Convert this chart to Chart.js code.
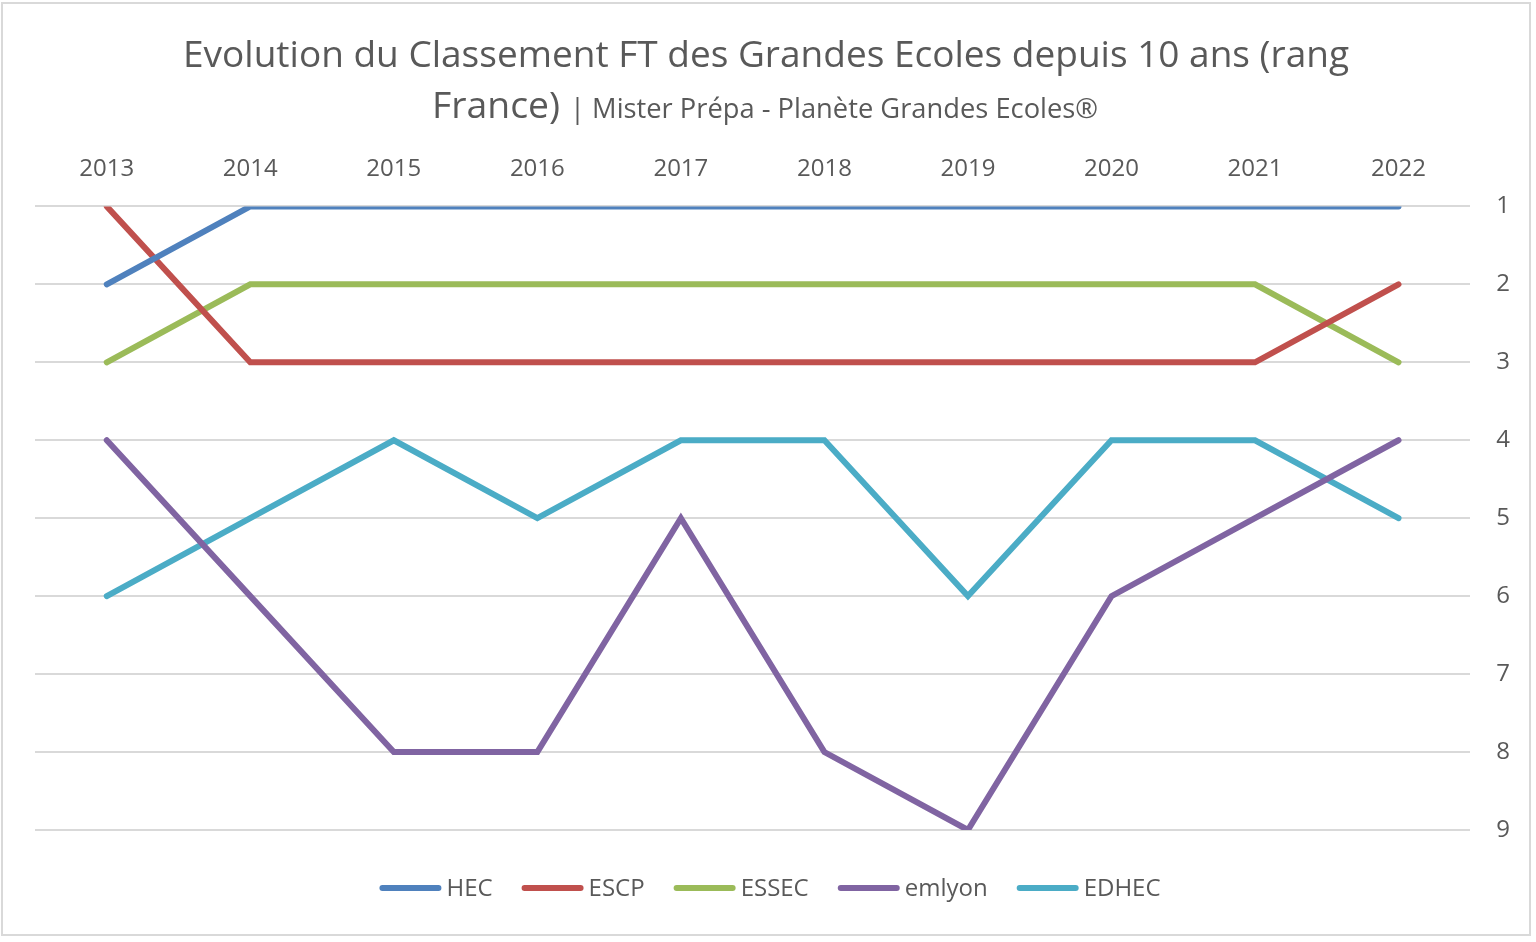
<!DOCTYPE html>
<html>
<head>
<meta charset="utf-8">
<script src="https://cdn.jsdelivr.net/npm/chart.js@4/dist/chart.umd.min.js"></script>
<style>
html,body{margin:0;padding:0;background:#fff;}
#wrap{width:1536px;height:942px;position:relative;}
</style>
</head>
<body>
<div id="wrap"><canvas id="c" width="1536" height="942"></canvas></div>
<script>
const years = ['2013','2014','2015','2016','2017','2018','2019','2020','2021','2022'];
const hec    = [2,1,1,1,1,1,1,1,1,1];
const escp   = [1,3,3,3,3,3,3,3,3,2];
const essec  = [3,2,2,2,2,2,2,2,2,3];
const emlyon = [4,6,8,8,5,8,9,6,5,4];
const edhec  = [6,5,4,5,4,4,6,4,4,5];
const seriesNames = ['HEC','ESCP','ESSEC','emlyon','EDHEC'];
const rankTicks = [1,2,3,4,5,6,7,8,9];
const titleLine1 = 'Evolution du Classement FT des Grandes Ecoles depuis 10 ans (rang';
const titleLine2a = 'France)';
const titleLine2b = '| Mister Prépa - Planète Grandes Ecoles®';

const colors = ['#4F81BD','#C0504D','#9BBB59','#8064A2','#4BACC6'];
const textColor = '#595959';
const FONT = '"Open Sans", "DejaVu Sans", sans-serif';

function ds(label, data, color){
  return {label, data, borderColor: color, backgroundColor: color, borderWidth: 6,
    pointRadius: 0, pointHoverRadius: 0, tension: 0, borderCapStyle: 'round', borderJoinStyle: 'miter', fill: false};
}

const framePlugin = {
  id: 'frame',
  beforeDraw(chart){
    const ctx = chart.ctx;
    ctx.save();
    ctx.fillStyle = '#fff';
    ctx.fillRect(0,0,chart.width,chart.height);
    ctx.strokeStyle = '#d9d9d9';
    ctx.lineWidth = 2;
    ctx.strokeRect(2,3,1528,932);
    ctx.restore();
  },
  afterDraw(chart){
    const ctx = chart.ctx;
    ctx.save();
    ctx.fillStyle = textColor;
    ctx.textBaseline = 'alphabetic';
    ctx.textAlign = 'left';
    function drawFit(text, font, x0, x1, baseline){
      ctx.font = font;
      const w = ctx.measureText(text).width;
      const sx = (x1 - x0) / w;
      ctx.save();
      ctx.translate(x0, baseline);
      ctx.scale(sx, 1);
      ctx.fillText(text, 0, 0);
      ctx.restore();
    }
    drawFit(titleLine1, '37px ' + FONT, 183, 1349, 67);
    drawFit(titleLine2a, '37px ' + FONT, 432, 560, 118);
    drawFit(titleLine2b, '27px ' + FONT, 570, 1098, 118);

    // legend
    const lf = '24px ' + FONT;
    ctx.font = lf;
    const sample = 62, gapT = 5, spacing = 29;
    const widths = chart.data.datasets.map(d => sample + gapT + ctx.measureText(d.label).width);
    const total = widths.reduce((a,b)=>a+b,0) + spacing*(widths.length-1);
    let x = 770 - total/2;
    const y = 888;
    chart.data.datasets.forEach((d,i) => {
      ctx.strokeStyle = d.borderColor;
      ctx.lineWidth = 6;
      ctx.lineCap = 'round';
      ctx.beginPath();
      ctx.moveTo(x + 3, y);
      ctx.lineTo(x + sample - 3, y);
      ctx.stroke();
      ctx.fillStyle = textColor;
      ctx.textBaseline = 'middle';
      ctx.fillText(d.label, x + sample + gapT, y + 1);
      x += widths[i] + spacing;
    });
    ctx.restore();
  }
};

new Chart(document.getElementById('c'), {
  type: 'line',
  data: {
    labels: years,
    datasets: [
      ds(seriesNames[0], hec, colors[0]),
      ds(seriesNames[1], escp, colors[1]),
      ds(seriesNames[2], essec, colors[2]),
      ds(seriesNames[3], emlyon, colors[3]),
      ds(seriesNames[4], edhec, colors[4])
    ]
  },
  options: {
    responsive: false,
    animation: false,
    layout: { padding: { left: 35, right: 0, top: 131.6, bottom: 112 } },
    plugins: {
      title: { display: false },
      tooltip: { enabled: false },
      legend: { display: false }
    },
    scales: {
      x: {
        position: 'top',
        offset: true,
        grid: { display: false, drawTicks: false },
        border: { display: false },
        ticks: { color: textColor, font: { family: FONT, size: 24 }, padding: 23, maxRotation: 0 }
      },
      y: {
        position: 'right',
        reverse: true,
        min: 1, max: 9,
        afterBuildTicks(axis){ axis.ticks = rankTicks.map(v => ({value: v})); },
        grid: { color: '#d9d9d9', lineWidth: 2, drawTicks: false },
        border: { display: false },
        ticks: { color: textColor, font: { family: FONT, size: 24 }, padding: 26, stepSize: 1 }
      }
    }
  },
  plugins: [framePlugin]
});
</script>
</body>
</html>
